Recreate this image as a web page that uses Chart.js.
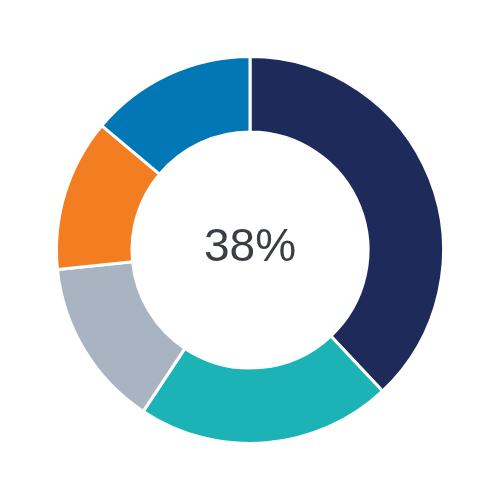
<!DOCTYPE html>
<html>
<head>
<meta charset="utf-8">
<script src="https://cdn.jsdelivr.net/npm/chart.js@4"></script>
<style>
  html, body { margin: 0; padding: 0; background: #ffffff; }
  #wrap { width: 500px; height: 500px; }
</style>
</head>
<body>
<div id="wrap"><canvas id="donutChart"></canvas></div>
<script>
const categories = ["A", "B", "C", "D", "E"];
const shares = [38, 21.3, 14.1, 12.7, 13.9];
const sliceColors = ["#1e2b5a", "#1bb3b5", "#a9b4c2", "#f27e21", "#0277b6"];
const centerLabel = "38%";

// texte au centre du donut
const centerText = {
  id: "centerText",
  afterDraw(chart) {
    const { ctx, chartArea } = chart;
    const x = (chartArea.left + chartArea.right) / 2;
    const y = (chartArea.top + chartArea.bottom) / 2;
    ctx.save();
    ctx.font = "46px 'Liberation Sans', Arial, sans-serif";
    ctx.fillStyle = "#3b3f45";
    ctx.textAlign = "center";
    ctx.textBaseline = "middle";
    ctx.fillText(centerLabel, x, y - 2);
    ctx.restore();
  },
};

const ctx = document.getElementById("donutChart").getContext("2d");
new Chart(ctx, {
  type: "doughnut",
  data: {
    labels: categories,
    datasets: [
      {
        data: shares,
        backgroundColor: sliceColors,
        borderColor: "#ffffff",
        borderWidth: 3,
      },
    ],
  },
  options: {
    responsive: true,
    maintainAspectRatio: false,
    animation: false,
    cutout: "61%",
    layout: { padding: 55 },
    plugins: {
      legend: { display: false },
      tooltip: { enabled: false },
    },
  },
  plugins: [centerText],
});
</script>
</body>
</html>
